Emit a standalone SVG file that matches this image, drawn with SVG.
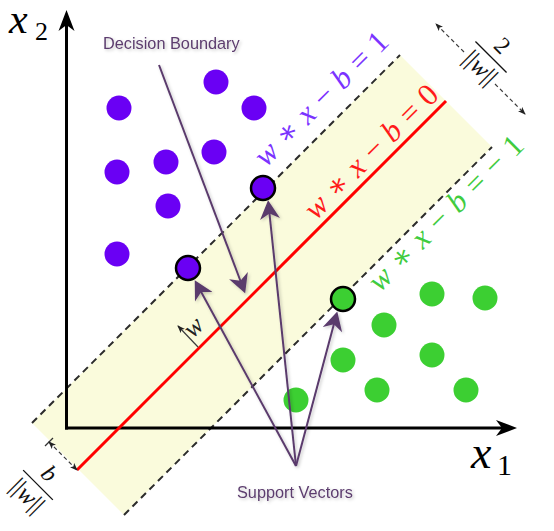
<svg xmlns="http://www.w3.org/2000/svg" width="554" height="531" viewBox="0 0 554 531">
<style>
.dash{stroke:#2b2b2b;stroke-width:2;stroke-dasharray:7 5;fill:none}
.ax{stroke:#000;stroke-width:3;fill:none}
.pu{fill:#6a00f4}
.gr{fill:#3ccf32}
.sv{stroke:#000;stroke-width:2.5}
.m{font-family:"Liberation Serif","DejaVu Serif",serif;}
.it{font-style:italic}
.lab{font-family:"Liberation Sans",Arial,sans-serif;font-size:16.3px;fill:#5c3d6e}
.conn{stroke:#5a3a6c;stroke-width:2;fill:none}
.thin{stroke:#3a3a3a;stroke-width:1.2;fill:none}
.tdash{stroke:#3a3a3a;stroke-width:1.2;fill:none;stroke-dasharray:4 3}
</style>
<defs>
<filter id="sh" x="-20%" y="-20%" width="140%" height="140%">
<feDropShadow dx="1.5" dy="1.5" stdDeviation="1.5" flood-color="#000" flood-opacity="0.22"/>
</filter>
<marker id="ah" markerUnits="userSpaceOnUse" markerWidth="20" markerHeight="20" viewBox="0 0 17 18" refX="9" refY="9" orient="auto">
<path d="M17,9 L0,0 L5,9 L0,18 Z" fill="#5a3a6c"/>
</marker>
<marker id="sm" markerUnits="userSpaceOnUse" markerWidth="8" markerHeight="8" viewBox="0 0 8 6" refX="7" refY="3" orient="auto-start-reverse">
<path d="M8,3 L0,0 L2,3 L0,6 Z" fill="#222"/>
</marker>
</defs>
<rect width="554" height="531" fill="#fff"/>

<g id="margin-band">
<polygon points="32,423 400,55 492,147 124,515" fill="#fafbdc"/>
<line class="dash" x1="32" y1="423" x2="400" y2="55"/>
<line class="dash" x1="124" y1="515" x2="492" y2="147"/>
</g>

<g id="axes">
<line class="ax" x1="66.5" y1="429.5" x2="66.5" y2="24"/>
<path d="M66.5,10 L74.5,31 L66.5,25 L58.5,31 Z" fill="#000"/>
<line class="ax" x1="65" y1="428" x2="503" y2="428"/>
<path d="M517,428 L496,420 L502,428 L496,436 Z" fill="#000"/>
<text class="m it" x="9" y="33" font-size="42">x</text>
<text class="m" x="35" y="40" font-size="26">2</text>
<text class="m it" x="471" y="468" font-size="46">x</text>
<text class="m" x="497" y="475" font-size="30">1</text>
</g>

<g id="hyperplane">
<line x1="77" y1="470" x2="446" y2="101" stroke="#ff0000" stroke-width="3"/>
</g>

<g id="eq-plus" transform="translate(266,168) rotate(-45)">
<text class="m" font-size="31" fill="#7b33ff" textLength="176" lengthAdjust="spacing"><tspan class="it">w</tspan>∗<tspan class="it">x</tspan>−<tspan class="it">b</tspan>=1</text>
</g>
<g id="eq-zero" transform="translate(316,221) rotate(-45)">
<text class="m" font-size="31" fill="#ff1a1a" textLength="176" lengthAdjust="spacing"><tspan class="it">w</tspan>∗<tspan class="it">x</tspan>−<tspan class="it">b</tspan>=0</text>
</g>
<g id="eq-minus" transform="translate(380,293) rotate(-45)">
<text class="m" font-size="31" fill="#3fcc3f" textLength="206" lengthAdjust="spacing"><tspan class="it">w</tspan>∗<tspan class="it">x</tspan>−<tspan class="it">b</tspan>=−1</text>
</g>

<g id="margin-width">
<line class="tdash" x1="464" y1="52" x2="436" y2="24" marker-end="url(#sm)"/>
<line class="tdash" x1="495" y1="84" x2="525" y2="114" marker-end="url(#sm)"/>
<g transform="translate(491,57) rotate(45)">
<line x1="-22" y1="0" x2="22" y2="0" stroke="#111" stroke-width="1.3"/>
<text class="m" x="0" y="-8" font-size="24" text-anchor="middle" fill="#111">2</text>
<text class="m" x="0" y="23" font-size="25" text-anchor="middle" fill="#111">||<tspan class="it">w</tspan>||</text>
</g>
</g>

<g id="offset">
<line x1="45" y1="446" x2="53" y2="438" stroke="#333" stroke-width="1.2"/>
<line class="tdash" x1="49" y1="442" x2="77" y2="470" marker-start="url(#sm)" marker-end="url(#sm)"/>
<g transform="translate(38,485) rotate(45)">
<line x1="-21" y1="0" x2="21" y2="0" stroke="#111" stroke-width="1.3"/>
<text class="m it" x="0" y="-8" font-size="24" text-anchor="middle" fill="#111">b</text>
<text class="m" x="0" y="23" font-size="25" text-anchor="middle" fill="#111">||<tspan class="it">w</tspan>||</text>
</g>
</g>

<g id="normal-w">
<line class="thin" x1="198" y1="347" x2="178" y2="326" marker-end="url(#sm)"/>
<g transform="translate(193,339) rotate(-45)">
<text class="m it" font-size="26" fill="#222">w</text>
</g>
</g>

<g id="class-a">
<g id="pa1"><circle class="pu" cx="119" cy="108" r="12.5"/></g>
<g id="pa2"><circle class="pu" cx="216" cy="82" r="12.5"/></g>
<g id="pa3"><circle class="pu" cx="254" cy="108" r="12.5"/></g>
<g id="pa4"><circle class="pu" cx="117" cy="172" r="12.5"/></g>
<g id="pa5"><circle class="pu" cx="166" cy="162" r="12.5"/></g>
<g id="pa6"><circle class="pu" cx="214" cy="152" r="12.5"/></g>
<g id="pa7"><circle class="pu" cx="168" cy="206" r="12.5"/></g>
<g id="pa8"><circle class="pu" cx="117" cy="254" r="12.5"/></g>
<g id="sv-a1"><circle class="pu sv" cx="188" cy="268" r="12"/></g>
<g id="sv-a2"><circle class="pu sv" cx="263" cy="188" r="12"/></g>
</g>

<g id="class-b">
<g id="pb1"><circle class="gr" cx="432" cy="294" r="12.5"/></g>
<g id="pb2"><circle class="gr" cx="485" cy="298" r="12.5"/></g>
<g id="pb3"><circle class="gr" cx="384" cy="325" r="12.5"/></g>
<g id="pb4"><circle class="gr" cx="432" cy="355" r="12.5"/></g>
<g id="pb5"><circle class="gr" cx="343" cy="360" r="12.5"/></g>
<g id="pb6"><circle class="gr" cx="377" cy="390" r="12.5"/></g>
<g id="pb7"><circle class="gr" cx="466" cy="390" r="12.5"/></g>
<g id="pb8"><circle class="gr" cx="296" cy="400" r="12.5"/></g>
<g id="sv-b1"><circle class="gr sv" cx="343" cy="299" r="12"/></g>
</g>

<g id="connectors" filter="url(#sh)">
<line class="conn" x1="159" y1="65" x2="242" y2="285" marker-end="url(#ah)"/>
<line class="conn" x1="296" y1="466" x2="199" y2="288" marker-end="url(#ah)"/>
<line class="conn" x1="296" y1="466" x2="269" y2="209" marker-end="url(#ah)"/>
<line class="conn" x1="296" y1="466" x2="335" y2="320" marker-end="url(#ah)"/>
</g>

<g id="label-decision" filter="url(#sh)">
<text class="lab" x="103" y="49">Decision Boundary</text>
</g>
<g id="label-support" filter="url(#sh)">
<text class="lab" x="237" y="498">Support Vectors</text>
</g>
</svg>
